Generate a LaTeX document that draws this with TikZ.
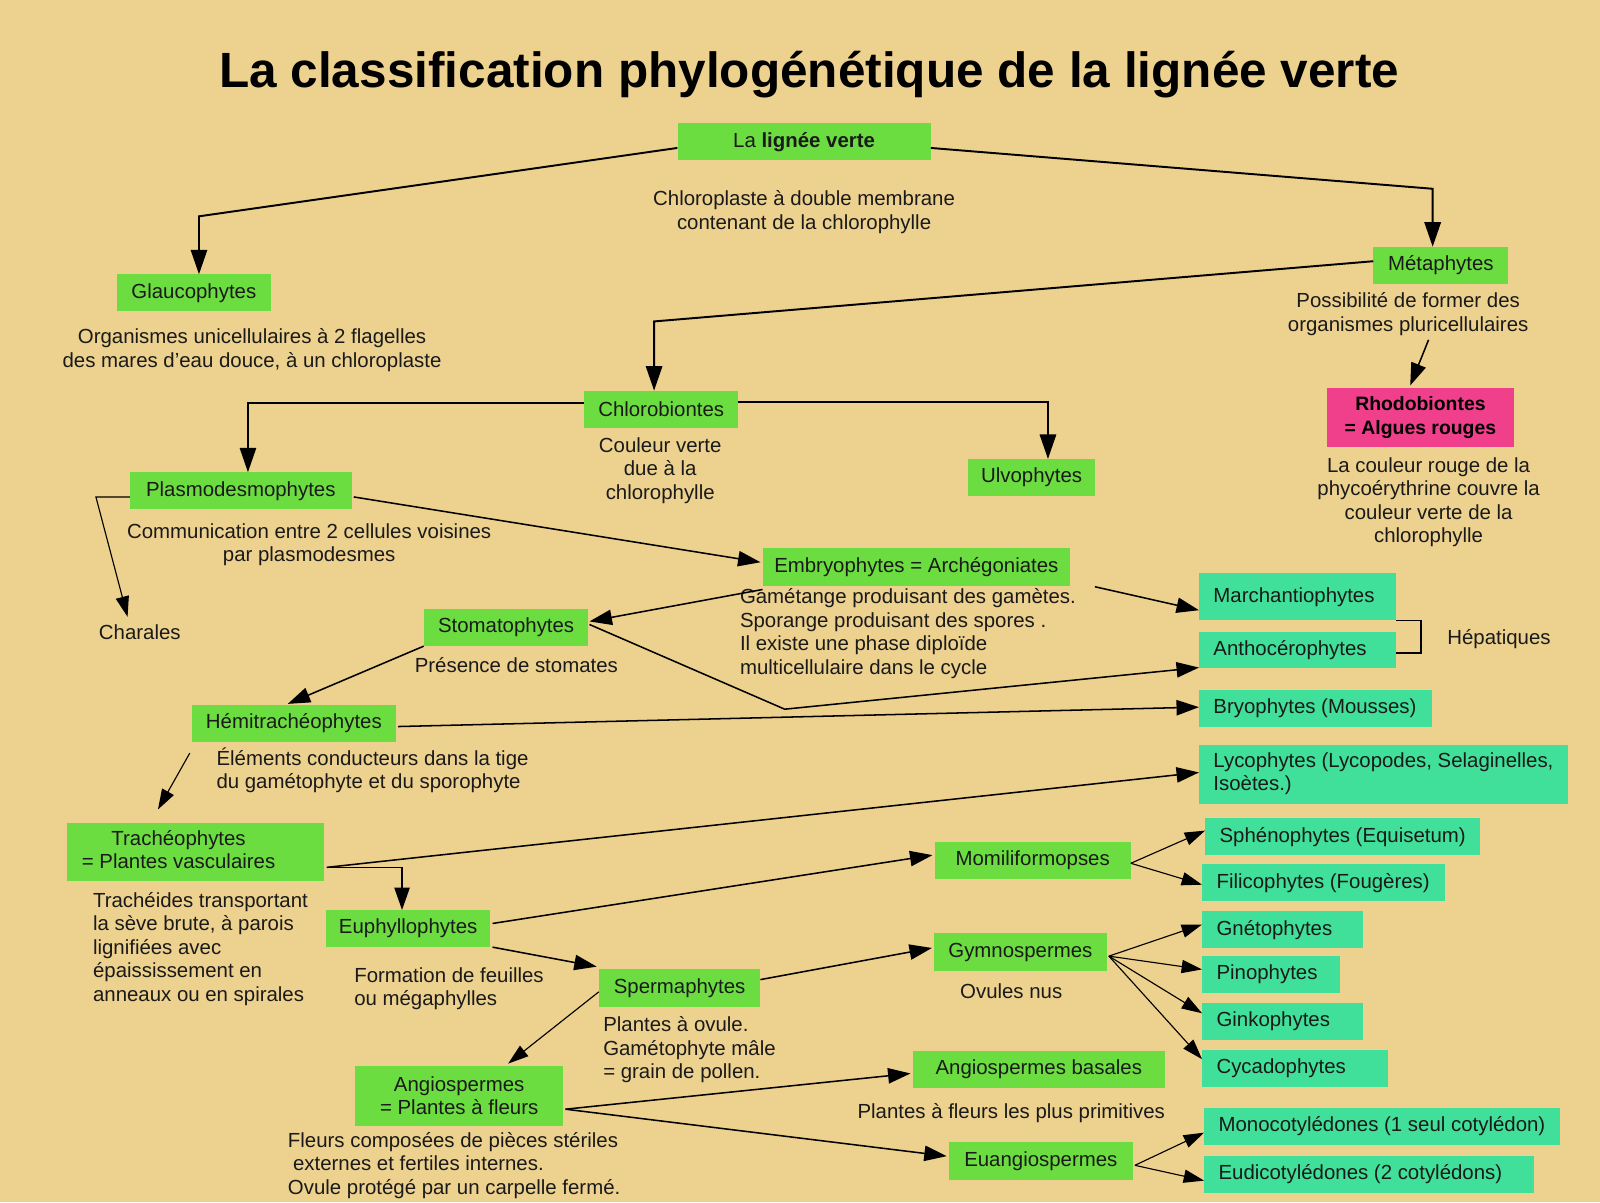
\documentclass[tikz,border=0pt]{standalone}
\usepackage{fontspec}
\setmainfont{Liberation Sans}
\usetikzlibrary{arrows.meta,calc}
\definecolor{bg}{HTML}{EDD18E}
\definecolor{grn}{HTML}{6CDD40}
\definecolor{tea}{HTML}{40E09A}
\definecolor{pnk}{HTML}{F0408C}
\definecolor{txt}{HTML}{1A1A1A}
\newcommand\fs{\fontsize{20}{23}\selectfont}
\newcommand\tlb[2]{\makebox[#1][l]{#2}}
\tikzset{
  gbox/.style={fill=grn, inner sep=0pt, minimum height=36pt, text=txt, font=\fs, align=center},
  tbox/.style={fill=tea, inner xsep=14pt, inner ysep=0pt, minimum height=36pt, text=txt, font=\fs, anchor=west},
  pbox/.style={fill=pnk, inner sep=0pt, text=black, font=\fontsize{19}{23}\selectfont, align=center},
  lbl/.style={inner sep=0pt, text=txt, font=\fs, align=center},
  arr/.style={draw=black, line width=1.5pt, -{Triangle[length=22pt,width=15pt]}},
  barr/.style={draw=black, line width=1.9pt, -{Triangle[length=24pt,width=16pt]}},
  tarr/.style={draw=black, line width=1.1pt, -{Triangle[length=20pt,width=13pt]}},
}
\begin{document}
\begin{tikzpicture}[x=1pt,y=-1pt]
\fill[bg] (0,0) rectangle (1568,1178);
\useasboundingbox (0,0) rectangle (1568,1178);

\node[anchor=base, inner sep=0pt, text=black, font=\fontsize{48.5}{52}\selectfont\bfseries] (title) at (793,86) {La classification phylogénétique de la lignée verte};

% nodes
\node[gbox, minimum width=248pt] (lv) at (788,139) {La \textbf{lignée verte}};
\node[lbl] (lvtxt) at (788,208) {Chloroplaste à double membrane\\contenant de la chlorophylle};
\node[gbox, minimum width=151pt] (glauco) at (190,287) {Glaucophytes};
\node[lbl] (glaucotxt) at (247,343) {Organismes unicellulaires à 2 flagelles\\des mares d{\symbol{"27}}eau douce, à un chloroplaste};
\node[gbox, minimum width=132pt] (meta) at (1412,260) {Métaphytes};
\node[lbl] (metatxt) at (1380,308) {Possibilité de former des\\organismes pluricellulaires};
\node[pbox, minimum width=183pt, minimum height=58pt] (rhodo) at (1392,409) {\textbf{Rhodobiontes}\\\textbf{= Algues rouges}};
\node[lbl] (rhodotxt) at (1400,492) {La couleur rouge de la\\phycoérythrine couvre la\\couleur verte de la\\chlorophylle};
\node[gbox, minimum width=151pt] (chloro) at (648,401) {Chlorobiontes};
\node[lbl] (chlorotxt) at (647,461) {Couleur verte\\due à la\\chlorophylle};
\node[gbox, minimum width=124pt] (ulvo) at (1011,468) {Ulvophytes};
\node[gbox, minimum width=217pt] (plasmo) at (236,481) {Plasmodesmophytes};
\node[lbl] (plasmotxt) at (303,534) {Communication entre 2 cellules voisines\\par plasmodesmes};
\node[lbl] (charales) at (137,620) {Charales};
\node[gbox, minimum width=301pt, minimum height=37pt] (embryo) at (898,556) {Embryophytes = Archégoniates};
\node[lbl, align=left, anchor=west] (embryotxt) at (725,621) {Gamétange produisant des gamètes.\\Sporange produisant des spores .\\Il existe une phase diploïde\\multicellulaire dans le cycle};
\node[gbox, minimum width=161pt] (stomato) at (496,615) {Stomatophytes};
\node[lbl] (stomatotxt) at (506,652) {Présence de stomates};
\node[gbox, minimum width=200pt] (hemi) at (288,709) {Hémitrachéophytes};
\node[lbl, align=left, anchor=west] (hemitxt) at (212,755) {Éléments conducteurs dans la tige\\du gamétophyte et du sporophyte};
\node[gbox, minimum width=252pt, minimum height=57pt] (tracheo) at (192,835) {\begin{tabular}{@{}c@{}}Trachéophytes\\= Plantes vasculaires\end{tabular}\hspace{34pt}};
\node[lbl, align=left, anchor=west] (tracheotxt) at (91,930) {Trachéides transportant\\la sève brute, à parois\\lignifiées avec\\épaississement en\\anneaux ou en spirales};
\node[gbox, minimum width=161pt] (euphyl) at (400,910) {Euphyllophytes};
\node[lbl, align=left, anchor=west] (euphyltxt) at (347,969) {Formation de feuilles\\ou mégaphylles};
\node[gbox, minimum width=158pt, minimum height=37pt] (sperma) at (666,968) {Spermaphytes};
\node[lbl, align=left, anchor=west] (spermatxt) at (591,1029) {Plantes à ovule.\\Gamétophyte mâle\\= grain de pollen.};
\node[gbox, minimum width=204pt, minimum height=59pt] (angio) at (450,1074) {Angiospermes\\= Plantes à fleurs};
\node[lbl, align=left, anchor=west] (angiotxt) at (282,1142) {Fleurs composées de pièces stériles\\\hspace*{5pt}externes et fertiles internes.\\Ovule protégé par un carpelle fermé.};
\node[gbox, minimum width=192pt] (momi) at (1012,843) {Momiliformopses};
\node[gbox, minimum width=169pt, minimum height=37pt] (gymno) at (1000,933) {Gymnospermes};
\node[lbl] (gymnotxt) at (991,971) {Ovules nus};
\node[gbox, minimum width=247pt] (angbas) at (1018,1048) {Angiospermes basales};
\node[lbl] (angbastxt) at (991,1091) {Plantes à fleurs les plus primitives};
\node[gbox, minimum width=180pt, minimum height=37pt] (euang) at (1020,1138) {Euangiospermes};

% teal boxes
\node[tbox, minimum height=46pt] (marchan) at (1175,585) {\tlb{165pt}{Marchantiophytes}};
\node[tbox] (antho) at (1175,637) {\tlb{165pt}{Anthocérophytes}};
\node[lbl] (hepat) at (1469,626) {Hépatiques};
\node[tbox] (bryo) at (1175,694) {\tlb{200pt}{Bryophytes (Mousses)}};
\node[tbox, minimum height=58pt] (lyco) at (1175,759) {\tlb{333pt}{\begin{tabular}{@{}l@{}}Lycophytes (Lycopodes, Selaginelles,\\Isoètes.)\end{tabular}}};
\node[tbox] (spheno) at (1181,820) {\tlb{241pt}{Sphénophytes (Equisetum)}};
\node[tbox] (filico) at (1178,865) {\tlb{210pt}{Filicophytes (Fougères)}};
\node[tbox] (gneto) at (1178,911) {\tlb{130pt}{Gnétophytes}};
\node[tbox] (pino) at (1178,955) {\tlb{107pt}{Pinophytes}};
\node[tbox, minimum height=37pt] (ginko) at (1178,1001) {\tlb{130pt}{Ginkophytes}};
\node[tbox, minimum height=37pt] (cycado) at (1178,1047) {\tlb{154pt}{Cycadophytes}};
\node[tbox, minimum height=37pt] (mono) at (1180,1104) {\tlb{321pt}{Monocotylédones (1 seul cotylédon)}};
\node[tbox] (eudi) at (1180,1151) {\tlb{295pt}{Eudicotylédones (2 cotylédons)}};

% coordinates
\coordinate (b1) at (195,212);
\coordinate (b2) at (1404,185);
\coordinate (b3) at (641,315);
\coordinate (r0) at (1400,333);
\coordinate (b5) at (243,395);
\coordinate (b6) at (1027,394);
\coordinate (b7) at (94,487);
\coordinate (m0) at (1073,575);
\coordinate (b11) at (769,695);
\coordinate (h0) at (186,738);
\coordinate (b16) at (394,850);

% connectors
\draw[barr] ($(lv.west)+(0,6)$) -- (b1) -- (b1 |- glauco.north);
\draw[barr] ($(lv.east)+(0,6)$) -- (b2) -- (b2 |- meta.north);
\draw[barr] ($(meta.west)+(0,-4)$) -- (b3) -- (b3 |- chloro.north);
\draw[arr] (r0) -- ($(rhodo.north)+(-10,-2)$);
\draw[barr] ($(chloro.west)+(0,-6)$) -- (b5) -- (b5 |- plasmo.north);
\draw[barr] ($(chloro.east)+(0,-7)$) -- (b6) -- (b6 |- ulvo.north);
\draw[tarr] ($(plasmo.west)+(0,6)$) -- (b7) -- ($(charales.north)+(-12,-8)$);
\draw[arr] ($(plasmo.east)+(2,6)$) -- ($(embryo.west)+(-2,-5)$);
\draw[arr] ($(embryo.south west)+(0,3)$) -- ($(stomato.east)+(1,-6)$);
\draw[arr] (m0) -- ($(marchan.west)+(0,13)$);
\draw[arr] ($(stomato.east)+(1,-3)$) -- (b11) -- ($(antho.south west)+(0,-1)$);
\draw[arr] (stomato.south west) -- ($(hemi.north)+(-6,-1)$);
\draw[arr] ($(hemi.east)+(2,3)$) -- ($(bryo.west)+(0,-1)$);
\draw[tarr] (h0) -- ($(tracheo.north west)+(89,-13)$);
\draw[arr] ($(tracheo.east)+(2,15)$) -- ($(lyco.west)+(0,-2)$);
\draw[arr] ($(tracheo.east)+(2,15)$) -- (b16) -- (b16 |- euphyl.north);
\draw[arr] ($(euphyl.east)+(2,-5)$) -- ($(momi.west)+(-2,-5)$);
\draw[arr] ($(euphyl.south east)+(2,0)$) -- ($(sperma.north west)+(-2,-2)$);
\draw[arr] ($(sperma.east)+(0,-8)$) -- ($(gymno.west)+(-2,-4)$);
\draw[tarr] ($(sperma.west)+(0,4)$) -- ($(angio.north)+(48,-2)$);
\draw[arr] ($(angio.east)+(2,13)$) -- ($(angbas.west)+(-2,4)$);
\draw[arr] ($(angio.east)+(2,13)$) -- ($(euang.west)+(-2,-5)$);
\draw[tarr] ($(momi.east)+(0,3)$) -- ($(spheno.west)+(0,-6)$);
\draw[tarr] ($(momi.east)+(0,3)$) -- ($(filico.west)+(0,2)$);
\draw[tarr] ($(gymno.east)+(2,4)$) -- ($(gneto.west)+(0,-5)$);
\draw[tarr] ($(gymno.east)+(2,4)$) -- ($(pino.west)+(0,-5)$);
\draw[tarr] ($(gymno.east)+(2,4)$) -- ($(ginko.west)+(0,-8)$);
\draw[tarr] ($(gymno.east)+(2,4)$) -- ($(cycado.west)+(0,-9)$);
\draw[tarr] ($(euang.east)+(2,4)$) -- ($(mono.west)+(0,6)$);
\draw[tarr] ($(euang.east)+(2,4)$) -- ($(eudi.west)+(0,6)$);
\draw[line width=1.5pt] (marchan.south east) -- ++(24,0) |- ($(antho.east)+(0,3)$);
\end{tikzpicture}
\end{document}
